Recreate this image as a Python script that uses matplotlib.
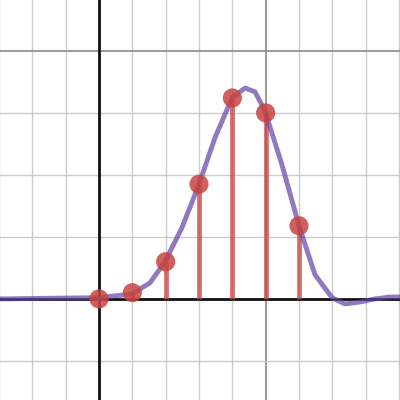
import matplotlib
matplotlib.use("Agg")
import matplotlib.pyplot as plt
import numpy as np

pt_x = [0, 1, 2, 3, 4, 5, 6]
pt_y = [0.0, 0.1, 0.6, 1.85, 3.24, 3.0, 1.18]

curve_x = [-3.0, 0, 0.99, 1.53, 1.98, 2.49, 3.0, 3.48, 3.99, 4.38, 4.68, 4.98, 5.49, 6.0, 6.48, 6.99, 7.38, 7.83, 8.28, 8.73, 9.1]
curve_y = [0.0, 0.02, 0.08, 0.26, 0.6, 1.15, 1.85, 2.60, 3.24, 3.4, 3.34, 3.03, 2.16, 1.18, 0.39, 0.02, -0.08, -0.05, 0.0, 0.03, 0.03]

fig = plt.figure(figsize=(4, 4), dpi=100)
ax = fig.add_axes([0, 0, 1, 1])
xmin, xmax = -2.97, 9.03
ymin, ymax = -1.63, 4.82
ax.set_xlim(xmin, xmax)
ax.set_ylim(ymin, ymax)
for gx in range(-3, 10):
    ax.axvline(gx, color='#888888' if gx == 5 else '#cccccc', lw=1.2 if gx == 5 else 1, zorder=0)
for gy in range(-2, 5):
    ax.axhline(gy, color='#888888' if gy == 4 else '#cccccc', lw=1.2 if gy == 4 else 1, zorder=0)
ax.axvline(0, color='#111111', lw=2, zorder=1)
ax.axhline(0, color='#111111', lw=2, zorder=1)

ax.vlines(pt_x, 0, pt_y, color='#c74440', alpha=0.75, lw=3.5, zorder=2)
ax.plot(curve_x, curve_y, color='#6042a6', alpha=0.7, lw=3.5, zorder=3, solid_capstyle='round')
ax.scatter(pt_x, pt_y, s=190, color='#c74440', alpha=0.85, zorder=4, edgecolors='none')
ax.axis('off')
fig.savefig("out.png", dpi=100)
